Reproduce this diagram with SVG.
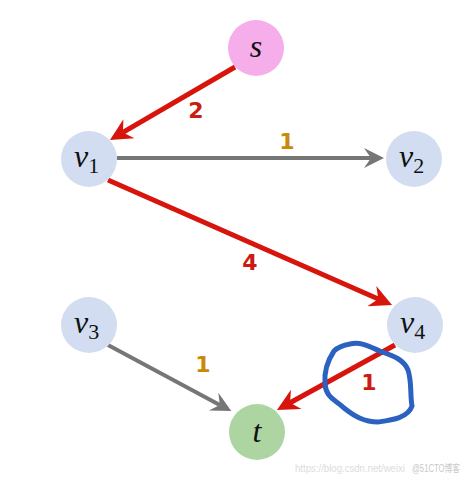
<svg xmlns="http://www.w3.org/2000/svg" width="474" height="483" viewBox="0 0 474 483">
<style>
.node{stroke:none}
.blue{fill:#d3ddf1}
.lbl{font-family:"Liberation Serif","DejaVu Serif",serif;font-size:32px;fill:#111}
.it{font-style:italic}
.sub{font-size:22px}
.red{stroke:#d7150c;stroke-width:5;fill:none}
.gray{stroke:#767676;stroke-width:4;fill:none}
.w{font-family:"DejaVu Sans","Liberation Sans",sans-serif;font-weight:bold;font-size:22px;text-anchor:middle}
.wr{fill:#cc1b12}
.wg{fill:#c98a0c}
</style>
<defs>
<marker id="ar" markerUnits="userSpaceOnUse" viewBox="-1 -12 24 24" markerWidth="24" markerHeight="24" refX="7" refY="0" orient="auto">
<path d="M0,-11 L22,0 L0,11 L7,0 Z" fill="#d7150c"/>
</marker>
<marker id="ag" markerUnits="userSpaceOnUse" viewBox="-1 -12 24 24" markerWidth="24" markerHeight="24" refX="7" refY="0" orient="auto">
<path d="M0,-10 L20,0 L0,10 L7,0 Z" fill="#767676"/>
</marker>
</defs>
<rect width="474" height="483" fill="#fff"/>
<g id="connectors">
<line class="red" x1="235" y1="67" x2="122.9" y2="132.4" marker-end="url(#ar)"/>
<line class="gray" x1="117" y1="158" x2="371" y2="158" marker-end="url(#ag)"/>
<line class="red" x1="108" y1="180" x2="378.3" y2="299" marker-end="url(#ar)"/>
<line class="gray" x1="108" y1="345" x2="219.8" y2="404.9" marker-end="url(#ag)"/>
<line class="red" x1="395" y1="345" x2="290.1" y2="402.8" marker-end="url(#ar)"/>
<text class="w wr" x="196" y="118">2</text>
<text class="w wg" x="287" y="149">1</text>
<text class="w wr" x="250" y="270">4</text>
<text class="w wg" x="203" y="372">1</text>
<text class="w wr" x="369" y="390">1</text>
</g>
<g id="s"><circle class="node" cx="256" cy="48" r="28" fill="#f5aeea"/><text class="lbl it" x="256" y="57" text-anchor="middle">s</text></g>
<g id="v1"><circle class="node blue" cx="89" cy="159" r="28"/><text class="lbl" x="74" y="167"><tspan class="it">v</tspan><tspan class="sub" dy="6">1</tspan></text></g>
<g id="v2"><circle class="node blue" cx="414" cy="159" r="28"/><text class="lbl" x="399" y="167"><tspan class="it">v</tspan><tspan class="sub" dy="6">2</tspan></text></g>
<g id="v3"><circle class="node blue" cx="89" cy="325" r="28"/><text class="lbl" x="74" y="333"><tspan class="it">v</tspan><tspan class="sub" dy="6">3</tspan></text></g>
<g id="v4"><circle class="node blue" cx="415" cy="325" r="28"/><text class="lbl" x="400" y="333"><tspan class="it">v</tspan><tspan class="sub" dy="6">4</tspan></text></g>
<g id="t"><circle class="node" cx="257" cy="432" r="28" fill="#acd5a2"/><text class="lbl it" x="257" y="442" text-anchor="middle">t</text></g>
<path d="M350,344 C362,341 372,348 382,352 C394,356 404,360 408,370 C412,382 410,396 412,406 C408,418 392,420 378,422 C364,422 354,416 344,408 C336,400 326,398 325,384 C324,372 328,360 334,351 C339,346 344,345 350,344 Z" fill="none" stroke="#2b62c0" stroke-width="5" stroke-linejoin="round"/>
<text x="295" y="472" font-family="Liberation Sans,sans-serif" font-size="10" fill="#dcdcdc" textLength="110" lengthAdjust="spacingAndGlyphs">https://blog.csdn.net/weixi</text>
<text x="412" y="472" font-family="Liberation Sans,'Noto Sans CJK SC',sans-serif" font-size="10" fill="#c8c8c8" textLength="48" lengthAdjust="spacingAndGlyphs">@51CTO博客</text>
</svg>
